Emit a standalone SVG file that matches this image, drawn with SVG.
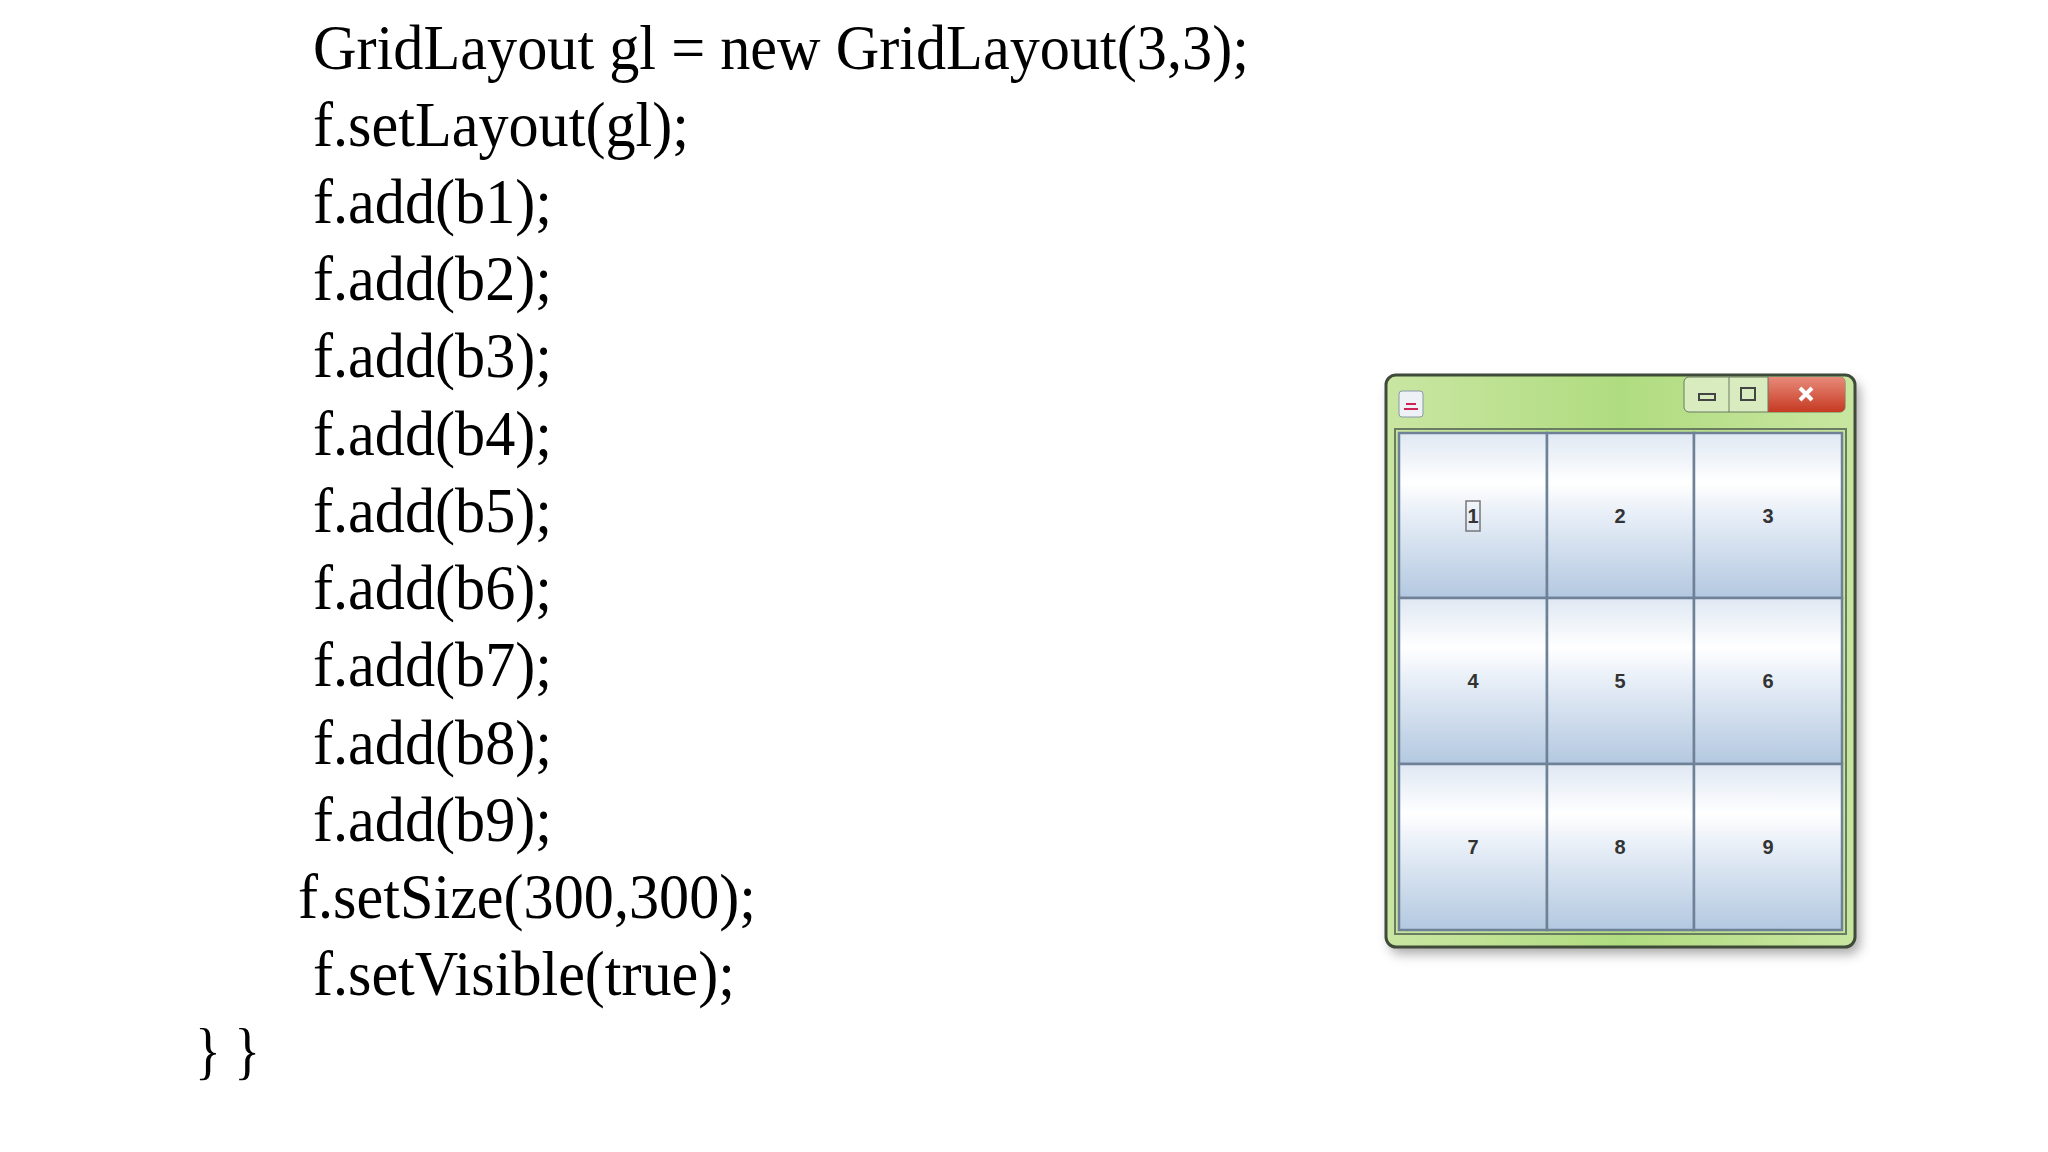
<svg xmlns="http://www.w3.org/2000/svg" width="2048" height="1152" viewBox="0 0 2048 1152">
<style>
.code{font-family:"Liberation Serif","Times New Roman",serif;font-size:64px;fill:#000}
.num{font-family:"Liberation Sans",Arial,sans-serif;font-size:20px;font-weight:bold;fill:#333;text-anchor:middle}
.cell{fill:url(#btn);stroke:#6f8196;stroke-width:2.5}
</style>
<defs>
<linearGradient id="btn" x1="0" y1="0" x2="0" y2="1">
<stop offset="0" stop-color="#dfe8f3"/><stop offset="0.3" stop-color="#ffffff"/><stop offset="0.5" stop-color="#e7eef7"/><stop offset="1" stop-color="#b3c8e0"/>
</linearGradient>
<linearGradient id="frame" x1="0" y1="0" x2="1" y2="0">
<stop offset="0" stop-color="#c9e6a2"/><stop offset="0.5" stop-color="#b0dc80"/><stop offset="1" stop-color="#c8e6a0"/>
</linearGradient>
<linearGradient id="close" x1="0" y1="0" x2="0" y2="1">
<stop offset="0" stop-color="#e88a7a"/><stop offset="1" stop-color="#c63a22"/>
</linearGradient>
<filter id="sh" x="-10%" y="-10%" width="120%" height="120%"><feGaussianBlur stdDeviation="6"/></filter>
</defs>
<rect width="2048" height="1152" fill="#fff"/>
<g id="code">
<text class="code" x="313" y="69" textLength="936" lengthAdjust="spacingAndGlyphs">GridLayout gl = new GridLayout(3,3);</text>
<text class="code" x="313" y="146" textLength="376" lengthAdjust="spacingAndGlyphs">f.setLayout(gl);</text>
<text class="code" x="313" y="223" textLength="239" lengthAdjust="spacingAndGlyphs">f.add(b1);</text>
<text class="code" x="313" y="300" textLength="239" lengthAdjust="spacingAndGlyphs">f.add(b2);</text>
<text class="code" x="313" y="377" textLength="239" lengthAdjust="spacingAndGlyphs">f.add(b3);</text>
<text class="code" x="313" y="455" textLength="239" lengthAdjust="spacingAndGlyphs">f.add(b4);</text>
<text class="code" x="313" y="532" textLength="239" lengthAdjust="spacingAndGlyphs">f.add(b5);</text>
<text class="code" x="313" y="609" textLength="239" lengthAdjust="spacingAndGlyphs">f.add(b6);</text>
<text class="code" x="313" y="686" textLength="239" lengthAdjust="spacingAndGlyphs">f.add(b7);</text>
<text class="code" x="313" y="764" textLength="239" lengthAdjust="spacingAndGlyphs">f.add(b8);</text>
<text class="code" x="313" y="841" textLength="239" lengthAdjust="spacingAndGlyphs">f.add(b9);</text>
<text class="code" x="298" y="918" textLength="458" lengthAdjust="spacingAndGlyphs">f.setSize(300,300);</text>
<text class="code" x="313" y="995" textLength="422" lengthAdjust="spacingAndGlyphs">f.setVisible(true);</text>
<text class="code" x="195" y="1072" textLength="65" lengthAdjust="spacingAndGlyphs">} }</text>
</g>
<g id="window">
<rect x="1390" y="382" width="470" height="572" rx="10" fill="#555" opacity="0.5" filter="url(#sh)"/>
<rect x="1386" y="375" width="469" height="572" rx="10" fill="url(#frame)" stroke="#3f4a38" stroke-width="3"/>
<rect x="1395" y="429" width="451" height="505" fill="none" stroke="#6a7d62" stroke-width="2"/>
<rect x="1399" y="391" width="24" height="26" rx="3" fill="#eef2f6" stroke="#8a98a8"/>
<path d="M1404 409h14M1406 404h10" stroke="#c25" stroke-width="2"/>
<rect x="1684" y="377" width="161" height="35" rx="5" fill="#d8ecc0" stroke="#6b7a60"/>
<path d="M1768 377h72a5 5 0 0 1 5 5v25a5 5 0 0 1-5 5h-72z" fill="url(#close)"/>
<line x1="1729" y1="377" x2="1729" y2="412" stroke="#6b7a60"/>
<line x1="1768" y1="377" x2="1768" y2="412" stroke="#6b7a60"/>
<rect x="1699" y="394" width="16" height="6" fill="none" stroke="#444" stroke-width="2"/>
<rect x="1741" y="388" width="14" height="12" fill="none" stroke="#444" stroke-width="2"/>
<path d="M1800 388l12 12M1812 388l-12 12" stroke="#fff" stroke-width="4"/>
</g>
<g id="grid">
<rect class="cell" x="1399" y="433" width="148" height="165"/>
<rect class="cell" x="1547" y="433" width="147" height="165"/>
<rect class="cell" x="1694" y="433" width="148" height="165"/>
<rect class="cell" x="1399" y="598" width="148" height="166"/>
<rect class="cell" x="1547" y="598" width="147" height="166"/>
<rect class="cell" x="1694" y="598" width="148" height="166"/>
<rect class="cell" x="1399" y="764" width="148" height="166"/>
<rect class="cell" x="1547" y="764" width="147" height="166"/>
<rect class="cell" x="1694" y="764" width="148" height="166"/>
<rect x="1466" y="501" width="14" height="30" fill="none" stroke="#777" stroke-width="1.5"/>
<text class="num" x="1473" y="523">1</text>
<text class="num" x="1620" y="523">2</text>
<text class="num" x="1768" y="523">3</text>
<text class="num" x="1473" y="688">4</text>
<text class="num" x="1620" y="688">5</text>
<text class="num" x="1768" y="688">6</text>
<text class="num" x="1473" y="854">7</text>
<text class="num" x="1620" y="854">8</text>
<text class="num" x="1768" y="854">9</text>
</g>
</svg>
